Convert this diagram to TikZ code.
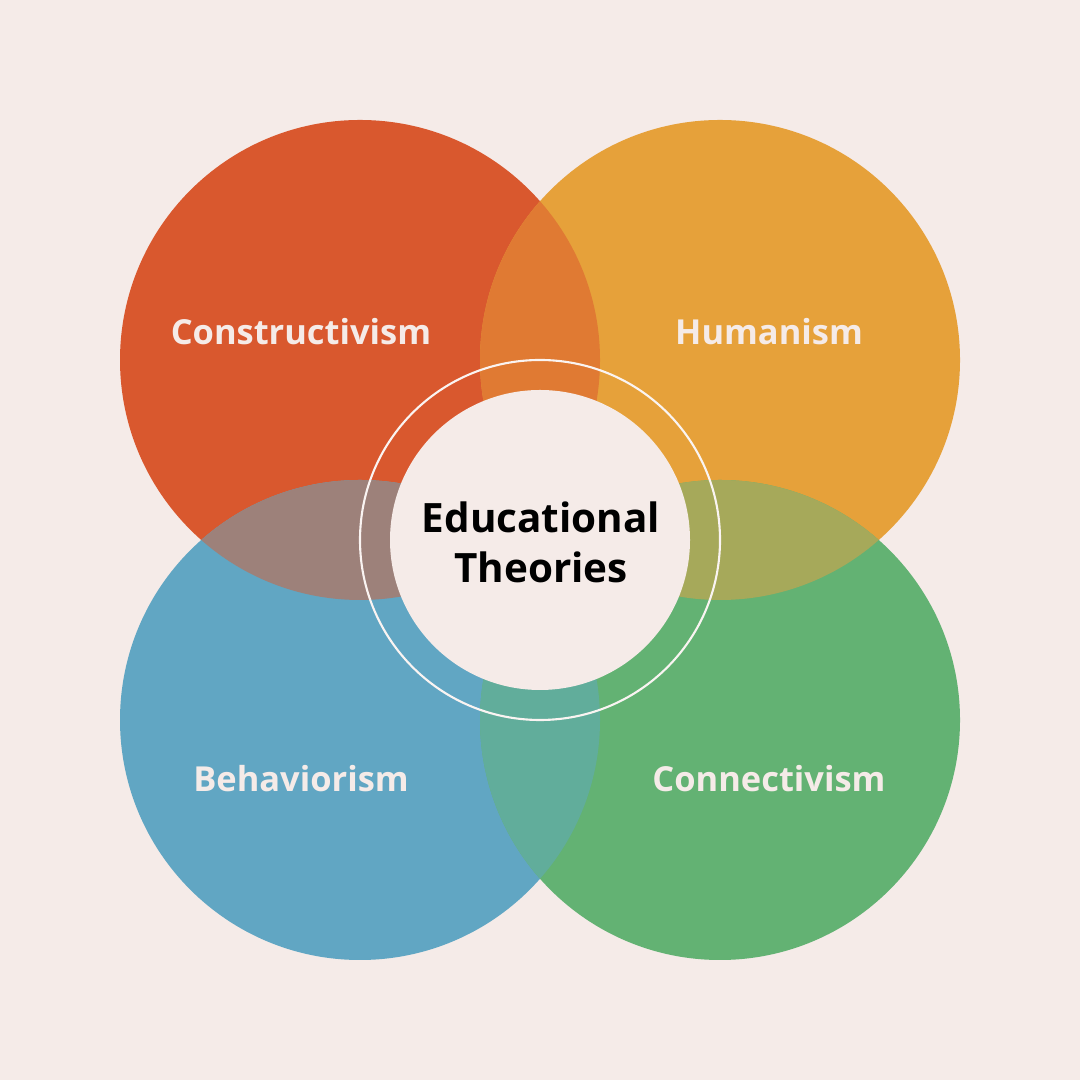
\documentclass[tikz,border=0pt]{standalone}
\usepackage{fontspec}
\setmainfont{Open Sans}
\definecolor{bg}{HTML}{F5EBE8}
\definecolor{cred}{HTML}{D9582E}
\definecolor{camber}{HTML}{E6A13A}
\definecolor{cblue}{HTML}{61A6C3}
\definecolor{cgreen}{HTML}{63B273}
\definecolor{mixRA}{HTML}{E07A33}
\definecolor{mixRB}{HTML}{9D817A}
\definecolor{mixAG}{HTML}{A6A95A}
\definecolor{mixBG}{HTML}{61AD9B}
\definecolor{ringc}{HTML}{FAF4F2}
\tikzset{
  bigcirc/.style={circle, minimum size=4.8cm, inner sep=0pt, draw=none},
  lbl/.style={text=bg, font=\bfseries\fontsize{9.8pt}{11.5pt}\selectfont},
  ctitle/.style={text=black, align=center, font=\bfseries\fontsize{11.5pt}{14.2pt}\selectfont}
}
\begin{document}
\begin{tikzpicture}
\fill[bg] (0,0) rectangle (10.8,10.8);
\useasboundingbox (0,0) rectangle (10.8,10.8);
\node[bigcirc, fill=cred] (tl) at (3.6,7.2) {};
\node[bigcirc, fill=camber] (tr) at (7.2,7.2) {};
\node[bigcirc, fill=cblue] (bl) at (3.6,3.6) {};
\node[bigcirc, fill=cgreen] (br) at (7.2,3.6) {};
\begin{scope}
  \clip (3.6,7.2) circle[radius=2.4cm];
  \fill[mixRA] (7.2,7.2) circle[radius=2.4cm];
\end{scope}
\begin{scope}
  \clip (3.6,7.2) circle[radius=2.4cm];
  \fill[mixRB] (3.6,3.6) circle[radius=2.4cm];
\end{scope}
\begin{scope}
  \clip (7.2,7.2) circle[radius=2.4cm];
  \fill[mixAG] (7.2,3.6) circle[radius=2.4cm];
\end{scope}
\begin{scope}
  \clip (3.6,3.6) circle[radius=2.4cm];
  \fill[mixBG] (7.2,3.6) circle[radius=2.4cm];
\end{scope}
\node[circle, minimum size=3.6cm, inner sep=0pt, draw=ringc, line width=0.6pt] (ring) at (5.4,5.4) {};
\node[circle, minimum size=3.0cm, inner sep=0pt, fill=bg] (core) at (5.4,5.4) {};
\node[ctitle] (title) at (5.41,5.38) {Educational\\Theories};
\node[lbl] (l1) at (3.01,7.48) {Constructivism};
\node[lbl] (l2) at (7.69,7.48) {Humanism};
\node[lbl] (l3) at (3.01,3.01) {Behaviorism};
\node[lbl] (l4) at (7.69,3.01) {Connectivism};
\end{tikzpicture}
\end{document}
